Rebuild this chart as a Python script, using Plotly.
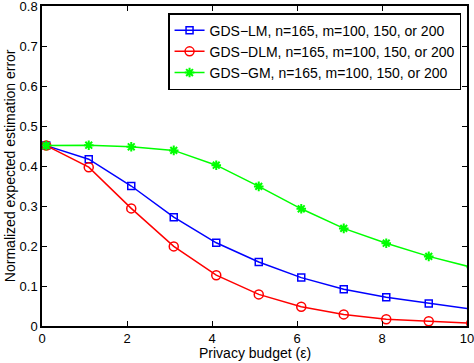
import plotly.graph_objects as go

eps = [0.1, 1.1, 2.1, 3.1, 4.1, 5.1, 6.1, 7.1, 8.1, 9.1, 10.1]
gds_lm = [0.451, 0.417, 0.350, 0.272, 0.208, 0.160, 0.121, 0.092, 0.072, 0.056, 0.042]
gds_dlm = [0.451, 0.397, 0.294, 0.199, 0.127, 0.079, 0.048, 0.029, 0.017, 0.012, 0.007]
gds_gm = [0.451, 0.452, 0.448, 0.439, 0.402, 0.349, 0.293, 0.244, 0.207, 0.174, 0.147]

names = ["GDS\u2212LM, n=165, m=100, 150, or 200",
         "GDS\u2212DLM, n=165, m=100, 150, or 200",
         "GDS\u2212GM, n=165, m=100, 150, or 200"]
x_title = "Privacy budget (\u03b5)"
y_title = "Normalized expected estimation error"

FONT = "Liberation Sans, Arial, sans-serif"

fig = go.Figure()
fig.add_trace(go.Scatter(x=eps, y=gds_lm, mode="lines+markers", name=names[0],
                         line=dict(color="rgb(0,0,255)", width=1.5),
                         marker=dict(symbol="square-open", size=7, color="rgb(0,0,255)",
                                     line=dict(width=1.5))))
fig.add_trace(go.Scatter(x=eps, y=gds_dlm, mode="lines+markers", name=names[1],
                         line=dict(color="rgb(255,0,0)", width=1.5),
                         marker=dict(symbol="circle-open", size=9, color="rgb(255,0,0)",
                                     line=dict(width=1.5))))
fig.add_trace(go.Scatter(x=eps, y=gds_gm, mode="lines+markers", name=names[2],
                         line=dict(color="rgb(0,255,0)", width=1.5),
                         marker=dict(symbol="asterisk-open", size=8, color="rgb(0,255,0)",
                                     line=dict(width=2, color="rgb(0,255,0)"))))

axis_common = dict(showgrid=False, zeroline=False, showline=True, linecolor="black",
                   linewidth=1.5, mirror="ticks", ticks="inside", ticklen=5,
                   tickcolor="black", tickwidth=1, ticklabeloverflow="allow",
                   tickfont=dict(family=FONT, size=13, color="black"))

fig.update_xaxes(range=[0, 10], tickvals=[0, 2, 4, 6, 8, 10], **axis_common)
fig.update_yaxes(range=[0, 0.8], tickvals=[0, 0.1, 0.2, 0.3, 0.4, 0.5, 0.6, 0.7, 0.8],
                 ticktext=["0", "0.1", "0.2", "0.3", "0.4", "0.5", "0.6", "0.7", "0.8"],
                 **axis_common)

fig.add_annotation(text=x_title, xref="paper", yref="paper", x=0.5, y=-0.083,
                   xanchor="center", yanchor="middle", showarrow=False,
                   font=dict(family=FONT, size=14, color="black"))
fig.add_annotation(text=y_title, xref="paper", yref="paper", x=-0.075, y=0.5,
                   xanchor="center", yanchor="middle", showarrow=False, textangle=-90,
                   font=dict(family=FONT, size=14, color="black"))

fig.update_layout(
    width=474, height=363,
    margin=dict(l=42, r=7, t=6, b=37, autoexpand=False),
    paper_bgcolor="white", plot_bgcolor="white",
    showlegend=True,
    legend=dict(x=0.986, y=0.978, xanchor="right", yanchor="top",
                bgcolor="white", bordercolor="black", borderwidth=1.5,
                font=dict(family=FONT, size=14, color="black"),
                tracegroupgap=0, itemwidth=30),
)

fig.write_html("out.html", config={"displayModeBar": False},
               post_script="document.body.style.margin='0px';document.body.style.overflow='hidden';")
